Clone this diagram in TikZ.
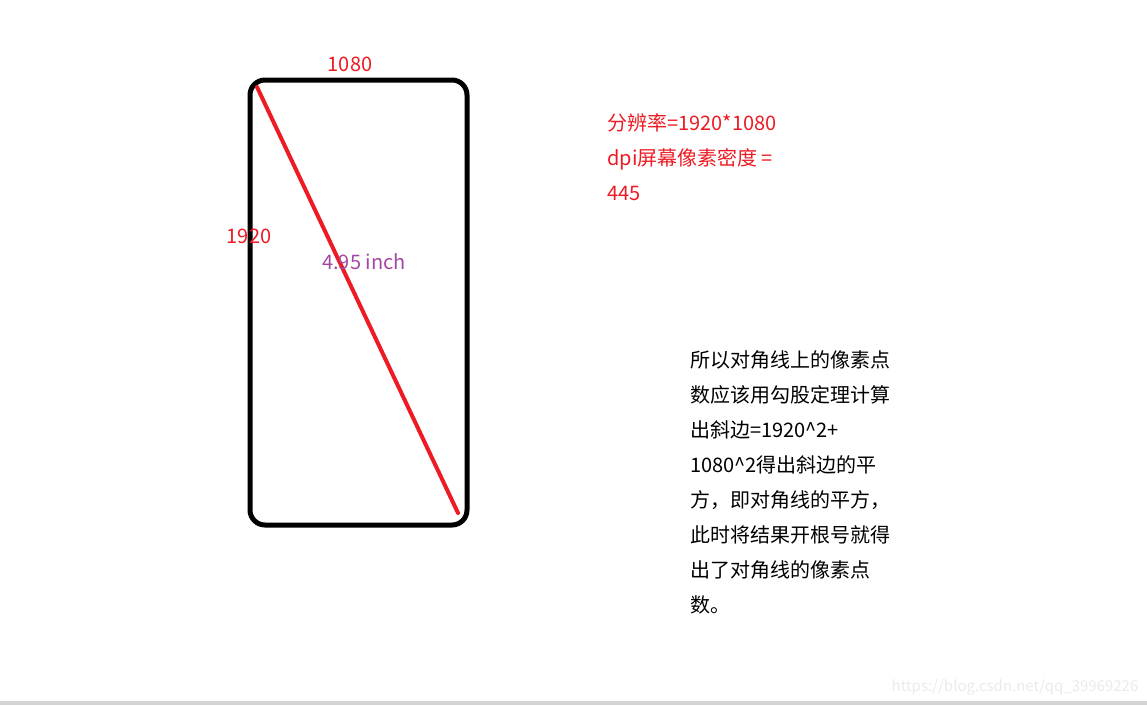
\documentclass[tikz,border=0pt]{standalone}
\usepackage{fontspec}
\setmainfont{Noto Sans CJK SC}
\usetikzlibrary{positioning}
\usepackage{xcolor}
\definecolor{myred}{RGB}{237,28,36}
\definecolor{mypurple}{RGB}{163,73,164}
\definecolor{mygrey}{RGB}{212,212,212}
\tikzset{
  phone/.style={draw=black,line width=5pt,rounded corners=15pt,inner sep=0pt},
  diag/.style={myred,line width=4pt,line cap=round},
  label/.style={font=\fontsize{20}{24}\selectfont,inner sep=0pt},
  note/.style={font=\fontsize{20}{35.1}\selectfont,align=left,inner sep=0pt,anchor=north west}
}
\begin{document}
\begin{tikzpicture}[x=1pt,y=-1pt]
  \useasboundingbox (0,0) rectangle (1147,705);
  \fill[white] (0,0) rectangle (1147,705);

  % --- phone outline and its diagonal ---
  \draw[phone] (250,80) rectangle (467,525);
  \coordinate (d-top) at (257,87);
  \coordinate (d-bot) at (458,513);
  \draw[diag] (d-top) -- (d-bot);

  % --- side labels ---
  \node[label, myred] (w) at (350,64) {1080};
  \node[label, myred] (h) at (249,236) {1920};
  \node[label, mypurple] (size) at (364,262) {4.95 inch};

  % --- notes ---
  \node[note, myred] (res) at (607,113) {分辨率=1920*1080\\dpi屏幕像素密度 =\\445};
  \node[note] (calc) at (690,350) {所以对角线上的像素点\\数应该用勾股定理计算\\出斜边=1920\^{}2+\\1080\^{}2得出斜边的平\\方，即对角线的平方，\\此时将结果开根号就得\\出了对角线的像素点\\数。};

  % --- watermark ---
  \node[font=\fontsize{15}{18}\selectfont, black!8, inner sep=0pt] (mark) at (1015,687) {https://blog.csdn.net/qq\_39969226};
  \fill[mygrey] (0,701) rectangle (1147,705);
\end{tikzpicture}
\end{document}
